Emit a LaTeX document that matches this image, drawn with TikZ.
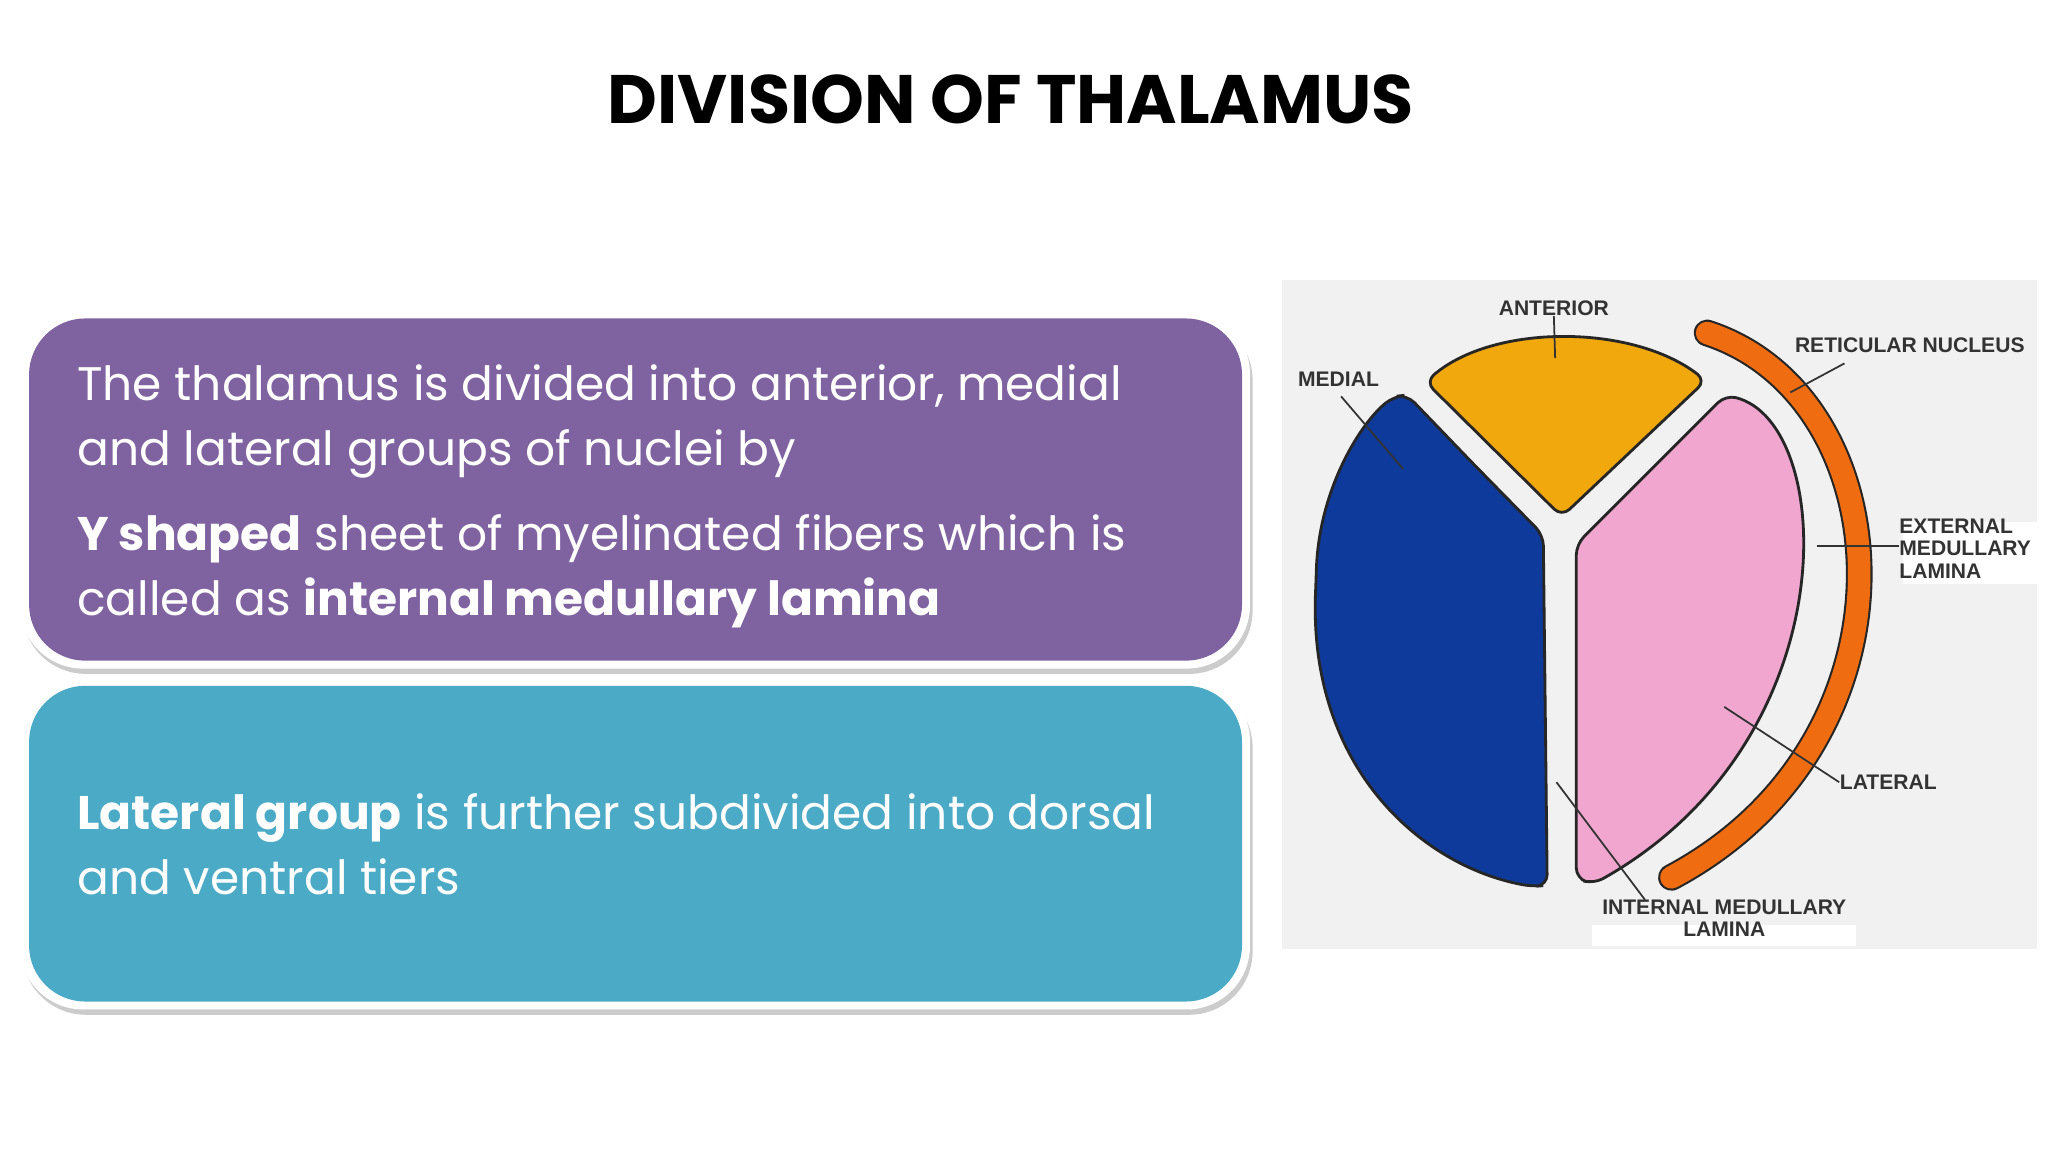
\documentclass[tikz,border=0pt]{standalone}
\usepackage{fontspec}
\setmainfont{Poppins}
\newfontfamily\lab{Liberation Sans}
\definecolor{purp}{HTML}{7F62A0}
\definecolor{teal2}{HTML}{4BAAC6}
\definecolor{panel}{HTML}{F1F1F1}
\definecolor{medb}{HTML}{0E3A9C}
\definecolor{anty}{HTML}{F0A80C}
\definecolor{latp}{HTML}{F0A6CF}
\definecolor{reto}{HTML}{F06C10}
\begin{document}
\begin{tikzpicture}[x=0.013213cm,y=-0.013213cm,
  body/.style={anchor=base west,inner sep=0,text=white,font=\fontsize{13.4}{16}\selectfont},
  lbl/.style={inner sep=0,font=\lab\bfseries\fontsize{6}{7}\selectfont,text=black!80},
  ptr/.style={draw=black!80,line width=0.5pt}]
\useasboundingbox (0,0) rectangle (1550,872);
\fill[white] (0,0) rectangle (1550,872);
\node[inner sep=0,font=\bfseries\fontsize{19.5}{22}\selectfont] (title) at (765,75) {DIVISION OF THALAMUS};
% boxes
\fill[black!20,rounded corners=18pt] (17,240) rectangle (948,510);
\fill[white,rounded corners=18pt] (15,235) rectangle (946,506);
\fill[purp,rounded corners=16pt] (22,241) rectangle (940,500);
\fill[black!20,rounded corners=18pt] (17,518) rectangle (948,768);
\fill[white,rounded corners=18pt] (15,513) rectangle (946,764);
\fill[teal2,rounded corners=16pt] (22,519) rectangle (940,758);
\node[body] (t1) at (58,303) {The thalamus is divided into anterior, medial};
\node[body] (t2) at (58,352) {and lateral groups of nuclei by};
\node[body] (t3) at (58,417) {\textbf{Y shaped} sheet of myelinated fibers which is};
\node[body] (t4) at (58,466) {called as \textbf{internal medullary lamina}};
\node[body] (t5) at (58,628) {\textbf{Lateral group} is further subdivided into dorsal};
\node[body] (t6) at (58,677) {and ventral tiers};
% diagram panel
\fill[panel] (970,212) rectangle (1542,718);
\fill[white] (1205,700) rectangle (1405,716);
\fill[white] (1440,395) rectangle (1542,442);
\begin{scope}[draw=black!85,line width=0.8pt,rounded corners=3pt]
\filldraw[fill=medb] (1115,351) -- (1168,405) -- (1171,670) -- (1160,671)
  .. controls (1075,655) and (990,580) .. (996,440) .. controls (998,370) and (1030,320) .. (1055,300) -- (1065,299) -- cycle;
\filldraw[fill=anty] (1079,289) .. controls (1130,245) and (1235,245) .. (1291,288)
  -- (1182,391) -- cycle;
\filldraw[fill=latp] (1250,355) -- (1306,299)
  .. controls (1390,320) and (1400,560) .. (1206,669) -- (1193,665) -- (1193,412) -- cycle;
\end{scope}
\draw[black!85,line width=7.6pt,line cap=round] (1292,252) .. controls (1440,300) and (1460,560) .. (1265,664);
\draw[reto,line width=6.4pt,line cap=round] (1292,252) .. controls (1440,300) and (1460,560) .. (1265,664);
% labels
\node[lbl] (lant) at (1176,233) {ANTERIOR};
\node[lbl] (lmed) at (1013,287) {MEDIAL};
\node[lbl,anchor=west] (lret) at (1358,261) {RETICULAR NUCLEUS};
\node[lbl,anchor=north west,align=left,font=\lab\bfseries\fontsize{6}{6.4}\selectfont] (lext) at (1437,392) {EXTERNAL\\MEDULLARY\\LAMINA};
\node[lbl,anchor=west] (llat) at (1392,592) {LATERAL};
\node[lbl,align=center,font=\lab\bfseries\fontsize{6}{6.4}\selectfont] (lint) at (1305,695) {INTERNAL MEDULLARY\\LAMINA};
\coordinate (pant) at (1177,271);
\coordinate (pmed) at (1062,355);
\coordinate (pret) at (1355,297);
\coordinate (pext) at (1375,413);
\coordinate (plat) at (1305,535);
\coordinate (pint) at (1178,592);
\draw[ptr] (lant.south) -- (pant);
\draw[ptr] (1015,300) -- (pmed);
\draw[ptr] (1396,275) -- (pret);
\draw[ptr] (lext.west |- pext) -- (pext);
\draw[ptr] (llat.west) -- (plat);
\draw[ptr] (1245,681) -- (pint);
\end{tikzpicture}
\end{document}
